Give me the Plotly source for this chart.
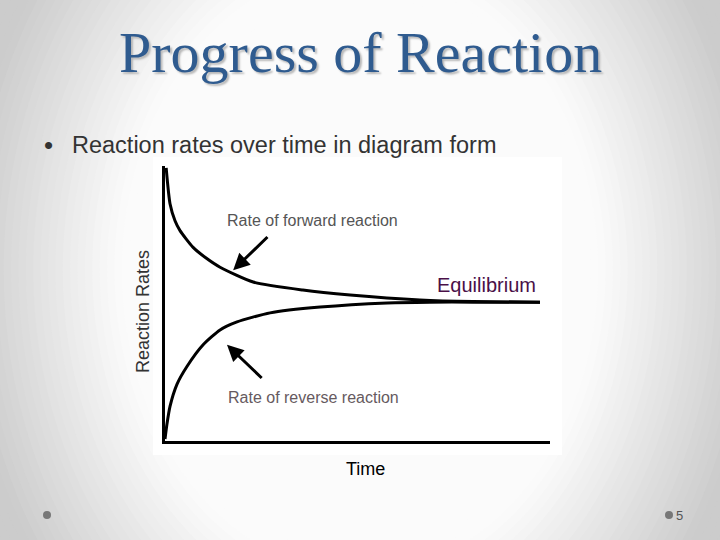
import plotly.graph_objects as go

# ---- data (arbitrary units: time 0-100, rate 0-100) ----
fwd_time = [0.3, 1.3, 2.6, 3.9, 7.3, 10.4, 14.3, 22.9, 35.8, 48.1, 66.2, 80.0, 97.4]
fwd_rate = [99.3, 86.3, 80.1, 76.5, 70.4, 66.8, 63.2, 57.8, 54.9, 53.1, 51.3, 50.7, 50.5]
rev_time = [0.0, 0.5, 1.3, 3.1, 5.7, 9.9, 14.3, 18.7, 27.3, 40.3, 57.7, 68.8, 80.0, 97.4]
rev_rate = [0.7, 6.1, 12.6, 20.6, 27.1, 35.0, 40.4, 43.3, 46.6, 48.7, 50.2, 50.5, 50.5, 50.5]

title_text = "Progress of Reaction"
bullet_text = "Reaction rates over time in diagram form"
y_title = "Reaction Rates"
x_title = "Time"

W, H = 720, 540
def px(x):
    return x / W
def py(y):
    return 1 - y / H

fig = go.Figure()
for t, r in [(fwd_time, fwd_rate), (rev_time, rev_rate)]:
    fig.add_trace(go.Scatter(x=t, y=r, mode="lines",
                             line=dict(color="black", width=3, shape="spline", smoothing=0.6),
                             cliponaxis=False, hoverinfo="skip", showlegend=False))

# background: soft radial gradient via many concentric ellipses
shapes = []
n = 40
d_max, d_min = 1.4, 0.6
for i in range(n):
    d = d_max - (d_max - d_min) * i / (n - 1)
    if d <= 0.68:
        c = 0xfb
    else:
        c = 0xfb - (0xfb - 0xd8) * (d - 0.68) / 0.32
    c = int(max(c, 0xcc))
    col = f"rgb({c},{c},{c})"
    rx, ry = 0.5 * d, 0.85 * d
    shapes.append(dict(type="circle", xref="paper", yref="paper",
                       x0=0.5 - rx, x1=0.5 + rx, y0=0.5 - ry, y1=0.5 + ry,
                       fillcolor=col, line_width=0, layer="below"))
shapes.append(dict(type="rect", xref="paper", yref="paper",
                   x0=px(153), x1=px(562), y0=py(455), y1=py(157),
                   fillcolor="white", line_width=0, layer="below"))
for cx in [47, 669]:
    shapes.append(dict(type="circle", xref="paper", yref="paper",
                       x0=px(cx - 4), x1=px(cx + 4), y0=py(519), y1=py(511),
                       fillcolor="#777777", line_width=0))

annotations = [
    dict(text=title_text, x=px(360), y=py(52), xref="paper", yref="paper",
         showarrow=False, xanchor="center", yanchor="middle",
         font=dict(family="Liberation Serif", size=58, color="#2f5b8f",
                   shadow="2px 2px 2px #b8b8b8")),
    dict(text="•", x=px(48), y=py(145), xref="paper", yref="paper",
         showarrow=False, xanchor="center", yanchor="middle",
         font=dict(family="Liberation Sans", size=26, color="#333333")),
    dict(text=bullet_text, x=px(70), y=py(145), xref="paper", yref="paper",
         showarrow=False, xanchor="left", yanchor="middle",
         font=dict(family="Liberation Sans", size=23.5, color="#333333")),
    dict(text="Rate of forward reaction", x=px(312), y=py(220), xref="paper", yref="paper",
         showarrow=False, xanchor="center", yanchor="middle",
         font=dict(family="Liberation Sans", size=16, color="#555555")),
    dict(text="Rate of reverse reaction", x=px(313), y=py(397), xref="paper", yref="paper",
         showarrow=False, xanchor="center", yanchor="middle",
         font=dict(family="Liberation Sans", size=16, color="#665a60")),
    dict(text="Equilibrium", x=px(486), y=py(285), xref="paper", yref="paper",
         showarrow=False, xanchor="center", yanchor="middle",
         font=dict(family="Liberation Sans", size=20, color="#4a1048")),
    dict(text=y_title, x=px(143), y=py(312), xref="paper", yref="paper",
         showarrow=False, xanchor="center", yanchor="middle", textangle=-90,
         font=dict(family="Liberation Sans", size=18, color="#333333")),
    dict(text=x_title, x=px(365), y=py(469), xref="paper", yref="paper",
         showarrow=False, xanchor="center", yanchor="middle",
         font=dict(family="Liberation Sans", size=18, color="black")),
    dict(text="5", x=px(674), y=py(515), xref="paper", yref="paper",
         showarrow=False, xanchor="left", yanchor="middle",
         font=dict(family="Liberation Sans", size=13, color="#555555")),
    # arrows
    dict(x=17.7, y=62.1, ax=27.0, ay=74.7, xref="x", yref="y", axref="x", ayref="y",
         text="", showarrow=True, arrowhead=2, arrowsize=1.1, arrowwidth=3, arrowcolor="black"),
    dict(x=16.1, y=35.0, ax=25.5, ay=22.4, xref="x", yref="y", axref="x", ayref="y",
         text="", showarrow=True, arrowhead=2, arrowsize=1.1, arrowwidth=3, arrowcolor="black"),
]

fig.update_layout(
    width=W, height=H,
    margin=dict(l=0, r=0, t=0, b=0),
    paper_bgcolor="#cccccc",
    plot_bgcolor="rgba(0,0,0,0)",
    shapes=shapes,
    annotations=annotations,
    showlegend=False,
    xaxis=dict(domain=[px(165), px(550)], range=[0, 100], showgrid=False, zeroline=False,
               showticklabels=False, ticks="", showline=True, linecolor="black", linewidth=3),
    yaxis=dict(domain=[py(441), py(166)], range=[0, 100], showgrid=False, zeroline=False,
               showticklabels=False, ticks="", showline=True, linecolor="black", linewidth=3),
)

fig.write_html("out.html", config={"displayModeBar": False},
               post_script="document.body.style.margin='0px';")
